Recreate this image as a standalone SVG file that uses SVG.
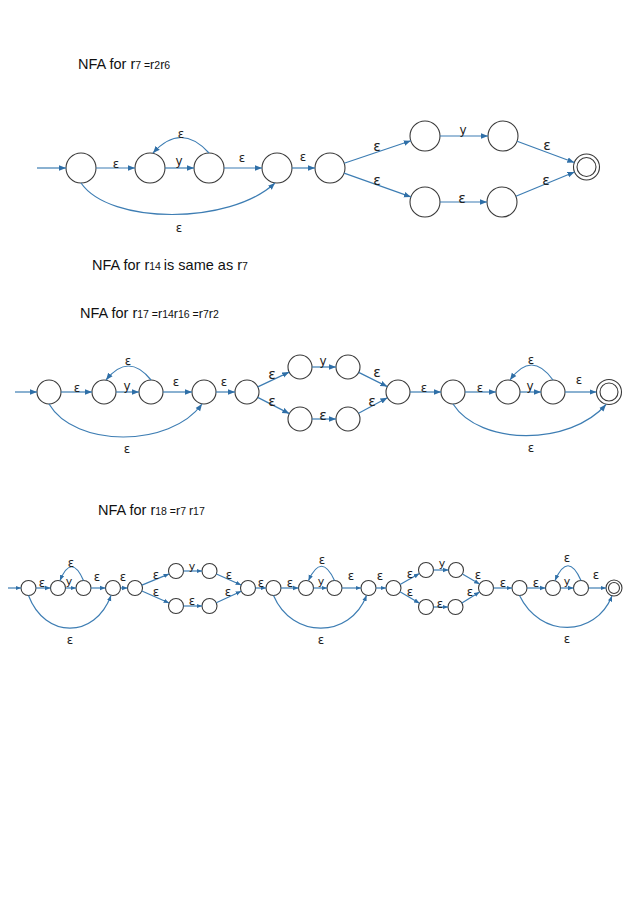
<svg xmlns="http://www.w3.org/2000/svg" width="638" height="902" viewBox="0 0 638 902">
<style>
.bg{fill:#ffffff}
.n{fill:#ffffff;stroke:#3a3a3a;stroke-width:1.1}
.e{fill:none;stroke:#3d7db3;stroke-width:1.2}
.t{font-family:"Liberation Sans",Arial,sans-serif;fill:#111}
.l{font-family:"DejaVu Sans","Liberation Sans",sans-serif;fill:#222;text-anchor:middle}
.s12{font-size:12px}
.s14{font-size:14px}
.s11{font-size:11px}
</style>
<defs>
<marker id="ah" viewBox="0 0 10 10" refX="10" refY="5" markerWidth="7" markerHeight="7" markerUnits="userSpaceOnUse" orient="auto"><path d="M0,1 L10,5 L0,9 z" fill="#2f6fa7"/></marker>
<marker id="ahs" viewBox="0 0 10 10" refX="10" refY="5" markerWidth="5.5" markerHeight="5.5" markerUnits="userSpaceOnUse" orient="auto"><path d="M0,1 L10,5 L0,9 z" fill="#2f6fa7"/></marker>
</defs>
<rect class="bg" x="0" y="0" width="638" height="902"/>

<g id="titles">
<text class="t" x="78" y="69" font-size="14.5">NFA for r<tspan font-size="10.5">7 =</tspan><tspan font-size="12.5">r</tspan><tspan font-size="10.5">2</tspan><tspan font-size="12.5">r</tspan><tspan font-size="10.5">6</tspan></text>
<text class="t" x="92" y="270" font-size="14.5">NFA for r<tspan font-size="10.5">14 </tspan> is same as r<tspan font-size="10.5">7</tspan></text>
<text class="t" x="80" y="318" font-size="14.5">NFA for r<tspan font-size="10.5">17 =</tspan><tspan font-size="12.5">r</tspan><tspan font-size="10.5">14</tspan><tspan font-size="12.5">r</tspan><tspan font-size="10.5">16 =</tspan><tspan font-size="12.5">r</tspan><tspan font-size="10.5">7</tspan><tspan font-size="12.5">r</tspan><tspan font-size="10.5">2</tspan></text>
<text class="t" x="98" y="515" font-size="14.5">NFA for r<tspan font-size="10.5">18 =</tspan><tspan font-size="12.5">r</tspan><tspan font-size="10.5">7 </tspan><tspan font-size="12.5">r</tspan><tspan font-size="10.5">17</tspan></text>
</g>

<!-- Diagram 1 nodes -->
<g id="a1"><circle class="n" cx="81" cy="168" r="15"/></g>
<g id="a2"><circle class="n" cx="150" cy="168" r="15"/></g>
<g id="a3"><circle class="n" cx="209" cy="168" r="15"/></g>
<g id="a4"><circle class="n" cx="277" cy="168" r="15"/></g>
<g id="a5"><circle class="n" cx="330" cy="168" r="15"/></g>
<g id="a6"><circle class="n" cx="425" cy="136" r="15"/></g>
<g id="a7"><circle class="n" cx="503" cy="136" r="15"/></g>
<g id="a8"><circle class="n" cx="425" cy="202" r="15"/></g>
<g id="a9"><circle class="n" cx="502" cy="202" r="15"/></g>
<g id="a10"><circle class="n" cx="586.5" cy="167" r="13"/><circle class="n" cx="586.5" cy="167" r="9.5"/></g>

<!-- Diagram 2 nodes -->
<g id="b1"><circle class="n" cx="49" cy="392" r="12"/></g>
<g id="b2"><circle class="n" cx="104" cy="392" r="12"/></g>
<g id="b3"><circle class="n" cx="151" cy="392" r="12"/></g>
<g id="b4"><circle class="n" cx="204" cy="392" r="12"/></g>
<g id="b5"><circle class="n" cx="247" cy="392" r="12"/></g>
<g id="b6"><circle class="n" cx="300" cy="367" r="12"/></g>
<g id="b7"><circle class="n" cx="348" cy="367" r="12"/></g>
<g id="b8"><circle class="n" cx="300" cy="419" r="12"/></g>
<g id="b9"><circle class="n" cx="348" cy="419" r="12"/></g>
<g id="b10"><circle class="n" cx="398" cy="392" r="12"/></g>
<g id="b11"><circle class="n" cx="453" cy="392" r="12"/></g>
<g id="b12"><circle class="n" cx="508" cy="392" r="12"/></g>
<g id="b13"><circle class="n" cx="553" cy="392" r="12"/></g>
<g id="b14"><circle class="n" cx="609" cy="392" r="12.5"/><circle class="n" cx="609" cy="392" r="9"/></g>

<!-- Diagram 3 nodes -->
<g id="c1"><circle class="n" cx="28.5" cy="588" r="7.5"/></g>
<g id="c2"><circle class="n" cx="58" cy="588" r="7.5"/></g>
<g id="c3"><circle class="n" cx="83.5" cy="588" r="7.5"/></g>
<g id="c4"><circle class="n" cx="113" cy="588" r="7.5"/></g>
<g id="c5"><circle class="n" cx="135" cy="588" r="7.5"/></g>
<g id="c6"><circle class="n" cx="176" cy="571" r="7.5"/></g>
<g id="c7"><circle class="n" cx="209.5" cy="571" r="7.5"/></g>
<g id="c8"><circle class="n" cx="176" cy="606" r="7.5"/></g>
<g id="c9"><circle class="n" cx="209.5" cy="606" r="7.5"/></g>
<g id="c10"><circle class="n" cx="248" cy="588" r="7.5"/></g>
<g id="c11"><circle class="n" cx="273.5" cy="588" r="7.5"/></g>
<g id="c12"><circle class="n" cx="306" cy="588" r="7.5"/></g>
<g id="c13"><circle class="n" cx="334.5" cy="588" r="7.5"/></g>
<g id="c14"><circle class="n" cx="368.5" cy="588" r="7.5"/></g>
<g id="c15"><circle class="n" cx="393.5" cy="588" r="7.5"/></g>
<g id="c16"><circle class="n" cx="426" cy="570" r="7.5"/></g>
<g id="c17"><circle class="n" cx="456" cy="570" r="7.5"/></g>
<g id="c18"><circle class="n" cx="426" cy="607" r="7.5"/></g>
<g id="c19"><circle class="n" cx="455.5" cy="607" r="7.5"/></g>
<g id="c20"><circle class="n" cx="486" cy="588" r="7.5"/></g>
<g id="c21"><circle class="n" cx="519.5" cy="588" r="7.5"/></g>
<g id="c22"><circle class="n" cx="553" cy="588" r="7.5"/></g>
<g id="c23"><circle class="n" cx="581" cy="588" r="7.5"/></g>
<g id="c24"><circle class="n" cx="614" cy="588" r="8"/><circle class="n" cx="614" cy="588" r="5.5"/></g>

<g id="connectors">
<!-- diagram 1 -->
<path class="e" marker-end="url(#ah)" d="M37,168 L66,168"/>
<path class="e" marker-end="url(#ah)" d="M96,168 L135,168"/>
<path class="e" marker-end="url(#ah)" d="M165,168 L194,168"/>
<path class="e" marker-end="url(#ah)" d="M209,153 Q181,122 153,153"/>
<path class="e" marker-end="url(#ah)" d="M224,168 L262,168"/>
<path class="e" marker-end="url(#ah)" d="M292,168 L315,168"/>
<path class="e" marker-end="url(#ah)" d="M81,183 C110,225 230,225 275,183"/>
<path class="e" marker-end="url(#ah)" d="M344.2,163.2 L410.8,140.8"/>
<path class="e" marker-end="url(#ah)" d="M344.1,173.1 L410.9,196.9"/>
<path class="e" marker-end="url(#ah)" d="M440,136 L488,136"/>
<path class="e" marker-end="url(#ah)" d="M440,202 L487,202"/>
<path class="e" marker-end="url(#ah)" d="M517.1,141.2 L574.3,162.5"/>
<path class="e" marker-end="url(#ah)" d="M515.9,196.3 L574.5,172"/>
<!-- diagram 2 -->
<path class="e" marker-end="url(#ah)" d="M15,392 L37,392"/>
<path class="e" marker-end="url(#ah)" d="M61,392 L92,392"/>
<path class="e" marker-end="url(#ah)" d="M116,392 L139,392"/>
<path class="e" marker-end="url(#ah)" d="M151,380 Q128.5,352 106,380"/>
<path class="e" marker-end="url(#ah)" d="M163,392 L192,392"/>
<path class="e" marker-end="url(#ah)" d="M216,392 L235,392"/>
<path class="e" marker-end="url(#ah)" d="M49,404 C75,448 170,448 202,404"/>
<path class="e" marker-end="url(#ah)" d="M257.8,386.9 L289.2,372.1"/>
<path class="e" marker-end="url(#ah)" d="M257.7,397.4 L289.3,413.6"/>
<path class="e" marker-end="url(#ah)" d="M312,367 L336,367"/>
<path class="e" marker-end="url(#ah)" d="M312,419 L336,419"/>
<path class="e" marker-end="url(#ah)" d="M358.7,372.4 L387.3,386.6"/>
<path class="e" marker-end="url(#ah)" d="M358.6,413.3 L387.4,397.7"/>
<path class="e" marker-end="url(#ah)" d="M410,392 L441,392"/>
<path class="e" marker-end="url(#ah)" d="M465,392 L496,392"/>
<path class="e" marker-end="url(#ah)" d="M520,392 L541,392"/>
<path class="e" marker-end="url(#ah)" d="M553,380 Q531.5,350 510,380"/>
<path class="e" marker-end="url(#ah)" d="M565,392 L596.5,392"/>
<path class="e" marker-end="url(#ah)" d="M453,404 C480,446 570,446 606,404.5"/>
<!-- diagram 3 -->
<path class="e" marker-end="url(#ahs)" d="M8,588 L21,588"/>
<path class="e" marker-end="url(#ahs)" d="M36,588 L50.5,588"/>
<path class="e" marker-end="url(#ahs)" d="M65.5,588 L76,588"/>
<path class="e" marker-end="url(#ahs)" d="M83.5,580.5 Q71.5,553 60,580.5"/>
<path class="e" marker-end="url(#ahs)" d="M91,588 L105.5,588"/>
<path class="e" marker-end="url(#ahs)" d="M120.5,588 L127.5,588"/>
<path class="e" marker-end="url(#ahs)" d="M28.5,595.5 C45,639 95,639 111,595.5"/>
<path class="e" marker-end="url(#ahs)" d="M141.9,585.1 L169.1,573.9"/>
<path class="e" marker-end="url(#ahs)" d="M141.9,591 L169.1,603"/>
<path class="e" marker-end="url(#ahs)" d="M183.5,571 L202,571"/>
<path class="e" marker-end="url(#ahs)" d="M183.5,606 L202,606"/>
<path class="e" marker-end="url(#ahs)" d="M216.4,574 L241.1,585"/>
<path class="e" marker-end="url(#ahs)" d="M216.3,602.8 L241.2,591.2"/>
<path class="e" marker-end="url(#ahs)" d="M255.5,588 L266,588"/>
<path class="e" marker-end="url(#ahs)" d="M281,588 L298.5,588"/>
<path class="e" marker-end="url(#ahs)" d="M313.5,588 L327,588"/>
<path class="e" marker-end="url(#ahs)" d="M334.5,580.5 Q321.5,552 308.5,580.5"/>
<path class="e" marker-end="url(#ahs)" d="M342,588 L361,588"/>
<path class="e" marker-end="url(#ahs)" d="M376,588 L386,588"/>
<path class="e" marker-end="url(#ahs)" d="M273.5,595.5 C292,639 350,639 366.5,595.5"/>
<path class="e" marker-end="url(#ahs)" d="M400.1,584.4 L419.4,573.6"/>
<path class="e" marker-end="url(#ahs)" d="M400,591.8 L419.5,603.2"/>
<path class="e" marker-end="url(#ahs)" d="M433.5,570 L448.5,570"/>
<path class="e" marker-end="url(#ahs)" d="M433.5,607 L448,607"/>
<path class="e" marker-end="url(#ahs)" d="M462.4,573.9 L479.6,584.1"/>
<path class="e" marker-end="url(#ahs)" d="M461.9,603 L479.6,592"/>
<path class="e" marker-end="url(#ahs)" d="M493.5,588 L512,588"/>
<path class="e" marker-end="url(#ahs)" d="M527,588 L545.5,588"/>
<path class="e" marker-end="url(#ahs)" d="M560.5,588 L573.5,588"/>
<path class="e" marker-end="url(#ahs)" d="M581,580.5 Q568,551 555,580.5"/>
<path class="e" marker-end="url(#ahs)" d="M588.5,588 L606,588"/>
<path class="e" marker-end="url(#ahs)" d="M519.5,595.5 C540,638 595,638 612,596"/>
</g>

<g id="labels">
<!-- diagram 1 -->
<text class="l s12" x="116" y="168">ε</text>
<text class="l s12" x="179" y="165">y</text>
<text class="l s12" x="181" y="138">ε</text>
<text class="l s12" x="242" y="162">ε</text>
<text class="l s12" x="303" y="161">ε</text>
<text class="l s12" x="179" y="232">ε</text>
<text class="l s14" x="377" y="151">ε</text>
<text class="l s14" x="377" y="185">ε</text>
<text class="l s12" x="463" y="134">y</text>
<text class="l s14" x="462" y="203">ε</text>
<text class="l s14" x="547" y="150">ε</text>
<text class="l s14" x="546" y="185">ε</text>
<!-- diagram 2 -->
<text class="l s12" x="77" y="392">ε</text>
<text class="l s12" x="127" y="390">y</text>
<text class="l s12" x="128" y="365">ε</text>
<text class="l s12" x="176" y="386">ε</text>
<text class="l s12" x="224" y="386">ε</text>
<text class="l s14" x="272" y="379">ε</text>
<text class="l s14" x="272" y="406">ε</text>
<text class="l s12" x="127" y="453">ε</text>
<text class="l s12" x="323" y="365">y</text>
<text class="l s14" x="323" y="420">ε</text>
<text class="l s14" x="377" y="377">ε</text>
<text class="l s14" x="372" y="406">ε</text>
<text class="l s12" x="424" y="392">ε</text>
<text class="l s12" x="480" y="392">ε</text>
<text class="l s12" x="530" y="390">y</text>
<text class="l s12" x="531" y="364">ε</text>
<text class="l s12" x="579" y="384">ε</text>
<text class="l s12" x="531" y="452">ε</text>
<!-- diagram 3 -->
<text class="l s12" x="42" y="587">ε</text>
<text class="l s11" x="69" y="585">y</text>
<text class="l s12" x="71" y="567">ε</text>
<text class="l s12" x="97" y="581">ε</text>
<text class="l s12" x="123" y="581">ε</text>
<text class="l s12" x="156" y="579">ε</text>
<text class="l s12" x="156" y="596">ε</text>
<text class="l s11" x="192" y="570">y</text>
<text class="l s12" x="192" y="605">ε</text>
<text class="l s12" x="70" y="644">ε</text>
<text class="l s12" x="229" y="579">ε</text>
<text class="l s12" x="228" y="596">ε</text>
<text class="l s12" x="261" y="587">ε</text>
<text class="l s12" x="290" y="587">ε</text>
<text class="l s11" x="321" y="585">y</text>
<text class="l s12" x="322" y="564">ε</text>
<text class="l s12" x="351" y="580">ε</text>
<text class="l s12" x="380" y="580">ε</text>
<text class="l s12" x="410" y="578">ε</text>
<text class="l s12" x="410" y="596">ε</text>
<text class="l s12" x="321" y="644">ε</text>
<text class="l s11" x="442" y="567">y</text>
<text class="l s12" x="440" y="608">ε</text>
<text class="l s12" x="478" y="579">ε</text>
<text class="l s12" x="470" y="596">ε</text>
<text class="l s12" x="503" y="587">ε</text>
<text class="l s12" x="536" y="587">ε</text>
<text class="l s11" x="567" y="585">y</text>
<text class="l s12" x="567" y="562">ε</text>
<text class="l s12" x="596" y="579">ε</text>
<text class="l s12" x="567" y="643">ε</text>
</g>
</svg>
